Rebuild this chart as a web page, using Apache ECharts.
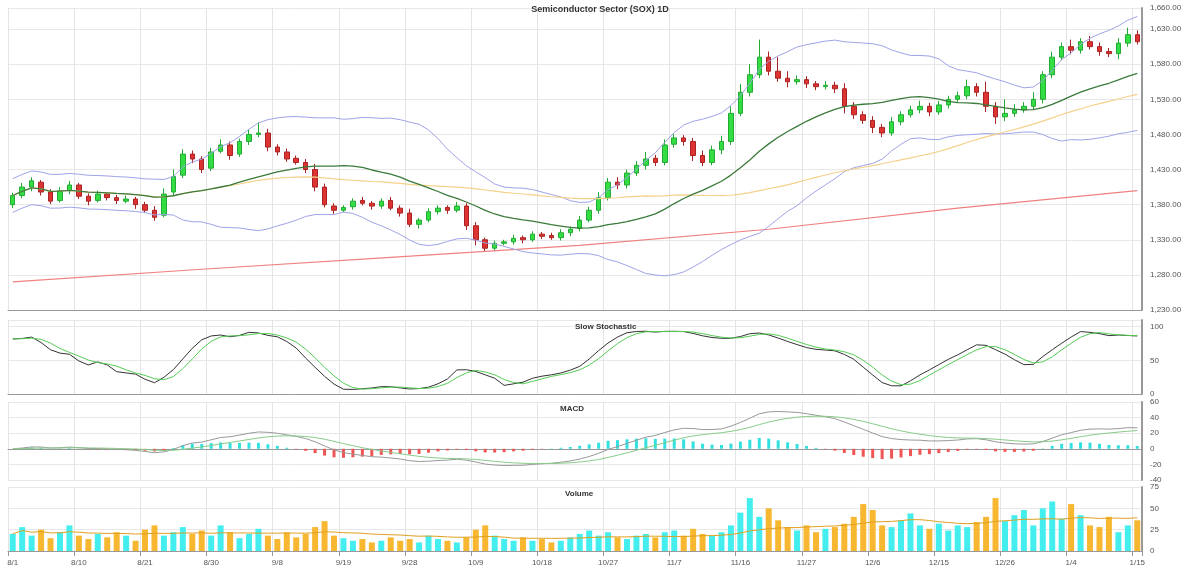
<!DOCTYPE html><html><head><meta charset="utf-8">
<script src="https://cdn.jsdelivr.net/npm/echarts@6/dist/echarts.min.js"></script>
<style>html,body{margin:0;background:#fff}#c{width:1200px;height:576px}</style></head><body><div id="c"></div>
<script>
const closes=[1393,1405,1414,1398,1385,1400,1408,1392,1385,1395,
1390,1386,1388,1380,1372,1362,1395,1420,1452,1445,
1430,1455,1465,1450,1470,1480,1482,1462,1455,1445,
1440,1430,1405,1380,1372,1376,1385,1382,1378,1385,
1375,1368,1352,1358,1370,1375,1372,1378,1350,1330,
1318,1325,1327,1332,1330,1338,1335,1333,1340,1345,
1358,1372,1390,1412,1408,1425,1436,1445,1440,1465,
1475,1470,1450,1440,1458,1470,1510,1540,1565,1590,
1570,1560,1555,1558,1552,1548,1550,1545,1520,1508,
1500,1490,1482,1498,1508,1515,1520,1512,1522,1530,
1535,1548,1540,1520,1505,1510,1515,1520,1530,1565,
1590,1605,1600,1612,1605,1598,1595,1610,1622,1612];
const opens=[1380,1393,1405,1412,1398,1386,1400,1408,1392,1386,
1395,1390,1385,1388,1380,1372,1365,1398,1422,1452,
1445,1432,1456,1465,1452,1470,1480,1482,1462,1455,
1446,1440,1430,1405,1378,1372,1377,1386,1382,1378,
1386,1375,1368,1352,1358,1370,1376,1372,1378,1350,
1330,1318,1325,1327,1333,1330,1338,1336,1333,1340,
1346,1358,1372,1390,1412,1408,1425,1436,1446,1440,
1466,1475,1470,1450,1440,1458,1470,1510,1540,1565,
1590,1570,1560,1555,1558,1552,1548,1550,1545,1520,
1508,1500,1490,1482,1498,1508,1515,1520,1512,1522,
1530,1535,1548,1540,1520,1505,1510,1515,1520,1530,
1565,1590,1605,1600,1612,1605,1598,1595,1610,1622];
const wickHi=[4,6,5,3,4,5,6,3,4,5,3,4,5,3,4,6,8,10,7,5,4,6,8,5,4,7,15,6,4,5,4,5,8,5,4,3,4,5,3,4,5,4,6,3,5,4,3,6,4,5,3,4,3,5,3,4,3,4,5,4,6,5,8,6,7,5,6,10,5,8,6,4,5,7,6,8,10,12,15,25,8,20,10,6,5,4,6,5,8,6,5,6,5,7,5,6,8,5,6,5,6,10,5,15,6,20,8,6,10,5,8,6,10,5,8,6,5,7,10,6];
const wickLo=[5,4,6,5,4,3,5,4,6,3,4,5,3,6,4,5,3,5,4,6,5,4,3,6,4,5,4,6,5,4,3,5,6,4,5,3,4,3,5,4,3,5,4,6,3,4,5,3,6,8,5,4,3,4,5,3,4,3,4,5,4,3,5,4,6,5,4,6,5,4,5,6,8,5,4,6,5,4,6,5,6,5,8,4,6,5,4,6,10,6,5,8,6,4,5,4,5,6,4,5,4,5,6,8,10,6,5,4,5,6,5,4,6,5,4,6,5,8,5,4];
const volumes=[20,28,18,25,15,22,30,18,14,20,16,22,18,12,25,30,18,22,28,20,24,18,30,22,15,20,26,18,14,22,16,20,28,35,18,15,12,14,10,12,16,12,14,10,18,14,12,10,16,25,30,18,14,12,16,12,14,10,12,16,20,24,18,22,16,14,18,20,16,22,24,18,26,20,18,22,30,45,62,40,50,36,28,24,30,22,26,28,32,40,55,48,30,28,36,44,30,26,32,24,30,28,34,40,62,35,42,48,30,50,58,38,55,42,30,28,40,22,30,36];
const longMA=[[0,1270],[20,1288],[40,1305],[60,1322],[80,1345],[100,1375],[119,1400]];
const priceTicks=[1250,1300,1350,1400,1450,1500,1550,1600,1650];
// date categories
const dates=[];{let d=new Date(2023,7,1);while(dates.length<closes.length){if(d.getDay()%6)dates.push((d.getMonth()+1)+'/'+d.getDate());d.setDate(d.getDate()+1);}}
const n=closes.length;
const ohlc=closes.map((c,i)=>[opens[i],c,Math.min(opens[i],c)-wickLo[i],Math.max(opens[i],c)+wickHi[i]]);
function sma(a,p){return a.map((v,i)=>{const s=a.slice(Math.max(0,i-p+1),i+1);return +(s.reduce((x,y)=>x+y,0)/s.length).toFixed(2);});}
function ema(a,p){const k=2/(p+1);let e=a[0];return a.map(v=>(e=v*k+e*(1-k)));}
const ma20=sma(closes,20),ma50=sma(closes,50);
const bbU=[],bbL=[];closes.forEach((c,i)=>{const s=closes.slice(Math.max(0,i-19),i+1);const m=ma20[i];const sd=Math.sqrt(s.reduce((x,y)=>x+(y-m)*(y-m),0)/s.length);bbU.push(m+2*Math.max(sd,12));bbL.push(m-2*Math.max(sd,12));});
const hs=ohlc.map(o=>o[3]),ls=ohlc.map(o=>o[2]);
const kRaw=closes.map((c,i)=>{const h=Math.max(...hs.slice(Math.max(0,i-13),i+1)),l=Math.min(...ls.slice(Math.max(0,i-13),i+1));return h===l?50:100*(c-l)/(h-l);});
const kS=sma(kRaw,5),dS=sma(kS,3);
const e12=ema(closes,12),e26=ema(closes,26);const macd=e12.map((v,i)=>v-e26[i]);const sig=ema(macd,9);const hist=macd.map((v,i)=>v-sig[i]);
const volMA=sma(volumes,20);
const grid=[{left:8,right:58,top:8,height:302},{left:8,right:58,top:320,height:74},{left:8,right:58,top:402,height:78},{left:8,right:58,top:487,height:64}];
const xA=grid.map((g,i)=>({type:'category',gridIndex:i,data:dates,boundaryGap:true,axisTick:{show:i==3},axisLine:{lineStyle:{color:'#999'}},axisLabel:{show:i==3,fontSize:8,color:'#555',interval:6},splitLine:{show:true,interval:6,lineStyle:{color:'#e4e4e4'}}}));
const yBase={position:'right',axisLine:{show:true,lineStyle:{color:'#999',width:2}},axisLabel:{fontSize:8,color:'#555'},splitLine:{lineStyle:{color:'#e8e8e8'}}};
const yA=[Object.assign({gridIndex:0,min:1230,max:1660,interval:50},yBase,{axisLabel:{fontSize:8,color:'#555',formatter:v=>v.toLocaleString('en-US',{minimumFractionDigits:2})}}),
Object.assign({gridIndex:1,min:0,max:110,interval:50},yBase),
Object.assign({gridIndex:2,min:-40,max:60,interval:20,splitNumber:3},yBase),
Object.assign({gridIndex:3,min:0,max:75,interval:25},yBase)];
const ln=(d,c,gi,w)=>({type:'line',data:d,xAxisIndex:gi,yAxisIndex:gi,symbol:'none',lineStyle:{color:c,width:w||1},silent:true});
const opt={animation:false,backgroundColor:'#fff',grid,xAxis:xA,yAxis:yA,
title:[{text:'Semiconductor Sector (SOX) 1D',left:'center',top:0,textStyle:{fontSize:9,color:'#333'}},
{text:'Slow Stochastic',left:570,top:318,textStyle:{fontSize:8,color:'#333'}},{text:'MACD',left:555,top:400,textStyle:{fontSize:8,color:'#333'}},{text:'Volume',left:560,top:485,textStyle:{fontSize:8,color:'#333'}}],
series:[
ln(longMA.map(p=>[dates[p[0]],p[1]]),'#f08080',0,1.2),
ln(bbU,'#9fa3e8',0),ln(bbL,'#9fa3e8',0),ln(ma50,'#f5d08a',0,1.2),ln(ma20,'#3a7a3a',0,1.3),
{type:'candlestick',data:ohlc,xAxisIndex:0,yAxisIndex:0,barWidth:5,itemStyle:{color:'#33dd44',color0:'#dd3333',borderColor:'#22aa33',borderColor0:'#aa2222'}},
ln(kS,'#333',1),ln(dS,'#55cc55',1),
{type:'bar',data:hist.map(v=>({value:v,itemStyle:{color:v>=0?'#33e0e0':'#ee5555'}})),xAxisIndex:2,yAxisIndex:2,barWidth:3},
ln(macd,'#999',2),ln(sig,'#88cc88',2),
{type:'bar',data:volumes.map((v,i)=>({value:v,itemStyle:{color:closes[i]>=opens[i]?'#44eeee':'#f7b731'}})),xAxisIndex:3,yAxisIndex:3,barWidth:6},
ln(volMA,'#e0a020',3)
]};
echarts.init(document.getElementById('c')).setOption(opt);
</script></body></html>
